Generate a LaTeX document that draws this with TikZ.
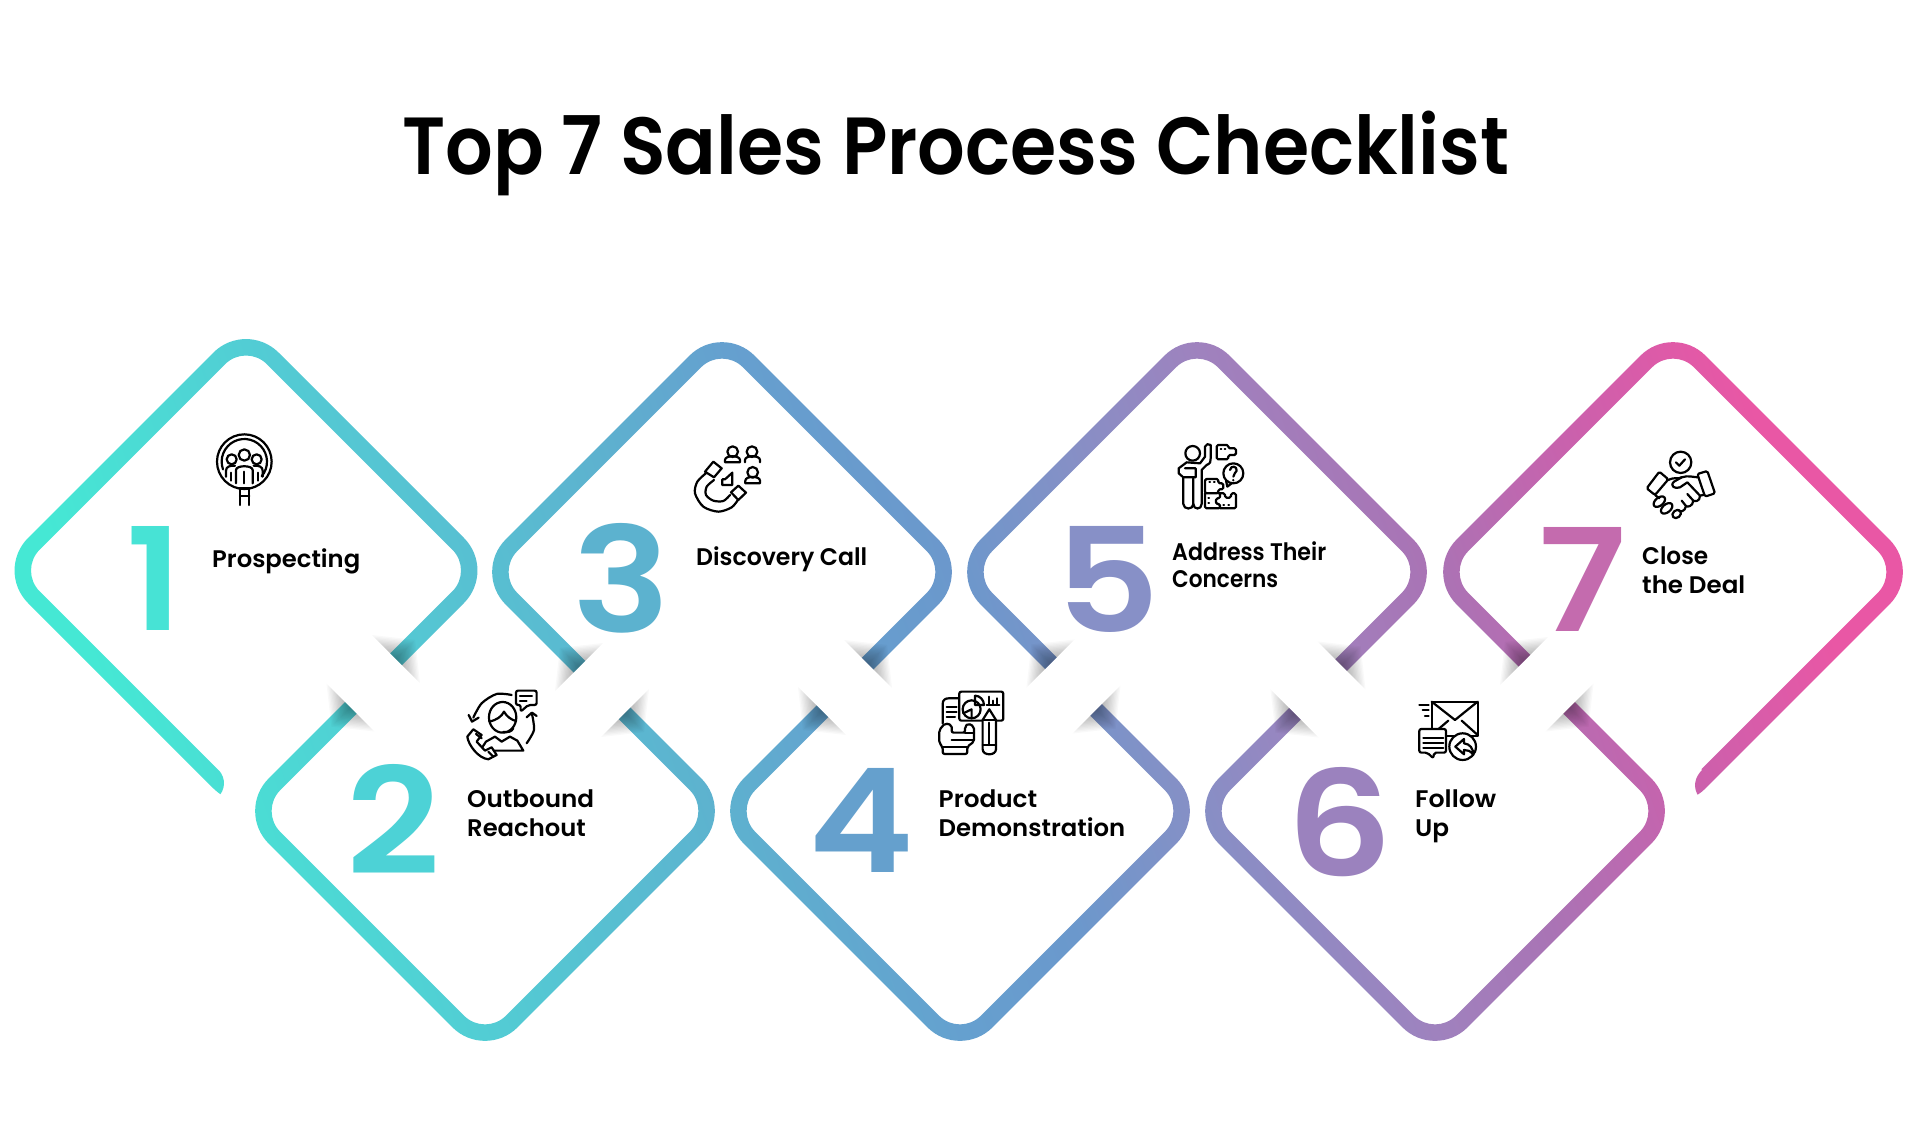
\documentclass[tikz,border=0pt]{standalone}
\usepackage{fontspec}
\usepackage{graphicx}
\newfontfamily\titlef{Poppins SemiBold}
\newfontfamily\labf{Poppins SemiBold}
\newfontfamily\numf{Poppins SemiBold}
\definecolor{gA}{HTML}{45E8D4}\definecolor{gB}{HTML}{52CDD4}\definecolor{gC}{HTML}{5DB2CF}
\definecolor{gD}{HTML}{65A0CF}\definecolor{gE}{HTML}{6B98CC}\definecolor{gF}{HTML}{8590C6}
\definecolor{gG}{HTML}{9F82BE}\definecolor{gH}{HTML}{A974B5}\definecolor{gI}{HTML}{CC60AC}
\definecolor{gJ}{HTML}{E957A5}
\definecolor{dig1}{HTML}{47E3D5}\definecolor{dig2}{HTML}{4DD2D6}\definecolor{dig3}{HTML}{5CB2CF}
\definecolor{dig4}{HTML}{65A0CD}\definecolor{dig5}{HTML}{8790C7}\definecolor{dig6}{HTML}{9B82BE}
\definecolor{dig7}{HTML}{C46BAE}
\pgfdeclarehorizontalshading{salesgrad}{2600pt}{color(0pt)=(gA);color(448pt)=(gA);color(695pt)=(gB);color(990pt)=(gC);color(1147pt)=(gD);color(1288pt)=(gE);color(1435pt)=(gF);color(1595pt)=(gG);color(1736pt)=(gH);color(1929pt)=(gI);color(2100pt)=(gJ);color(2600pt)=(gJ)}
\tikzset{
 icn/.style={draw=black,line width=2.2pt,line cap=round,line join=round},
 lab/.style={inner sep=0pt,anchor=base west,text=black},
 bignum/.style={inner sep=0pt}
}
\def\rH{248.9}\def\rI{225.6}
\newcommand\ringpiece[4]{%
 \begin{scope}[even odd rule]
  \clip #3;
  \clip
   ({#1+\rH/2},{#2-\rH/2}) [rounded corners=46pt] -- ({#1+\rH},#2) -- (#1,{#2+\rH}) -- ({#1-\rH},#2) -- (#1,{#2-\rH}) -- cycle
   [sharp corners]
   ({#1+\rI/2},{#2-\rI/2}) [rounded corners=29.5pt] -- ({#1+\rI},#2) -- (#1,{#2+\rI}) -- ({#1-\rI},#2) -- (#1,{#2-\rI}) -- cycle;
  \node[inner sep=0pt,rotate=19] (#4) at (960,561) {\pgfuseshading{salesgrad}};
 \end{scope}}
\newcommand\cutshadow[6]{%
 \foreach \i in {1,...,16}{
  \fill[black,opacity=.024] ({#1-#3*34*\i/16},{#2-#4*34*\i/16}) -- ({#1+#3*34*\i/16},{#2+#4*34*\i/16}) -- ({#1+#5*27*\i/16},{#2+#6*27*\i/16}) -- cycle;
 }}
\newcommand\arcd[5]{\draw[icn] plot[domain=#4:#5,samples=24,variable=\t] ({#1+#3*cos(\t)},{#2-#3*sin(\t)});}
\newcommand\labline[2]{\hbox{\resizebox{#1pt}{\height}{\labf #2}}}
\newcommand\labstack[1]{\vtop{\baselineskip=29.5pt\lineskiplimit=-100pt #1}}
\begin{document}
\begin{tikzpicture}[x=1pt,y=-1pt]
\useasboundingbox (0,0) rectangle (1921,1121);
\fill[white] (0,0) rectangle (1921,1121);

% rings
\begingroup
\def\rH{250.5}\def\rI{227.2}
\ringpiece{246}{570.5}{(440,703) -- (350,613) -- (217,768) .. controls (224,775) and (227,785) .. (220,795) -- (100,880) -- (-40,880) -- (-40,250) -- (520,250) -- (520,703) -- cycle}{r1}
\endgroup
\ringpiece{485}{811}{(300,657) -- (420,777) -- (550,788) -- (680,658) -- (800,658) -- (800,1100) -- (200,1100) -- (200,657) -- cycle}{r2}
\ringpiece{722}{572}{(540,706) -- (650,596) -- (800,596) -- (910,706) -- (1000,706) -- (1000,250) -- (450,250) -- (450,706) -- cycle}{r3}
\ringpiece{960}{811}{(780,669) -- (895,784) -- (1022,784) -- (1150,656) -- (1260,656) -- (1260,1100) -- (680,1100) -- (680,669) -- cycle}{r4}
\ringpiece{1197}{572}{(1000,714) -- (1120,594) -- (1270,594) -- (1390,714) -- (1480,714) -- (1480,250) -- (920,250) -- (920,714) -- cycle}{r5}
\ringpiece{1435}{811}{(1250,669) -- (1365,784) -- (1493,784) -- (1621,656) -- (1740,656) -- (1740,1100) -- (1160,1100) -- (1160,669) -- cycle}{r6}
\ringpiece{1673}{572}{(1480,705) -- (1600,585) -- (1702,770) .. controls (1695,777) and (1692,787) .. (1699,797) -- (1820,880) -- (1960,880) -- (1960,250) -- (1400,250) -- (1400,705) -- cycle}{r7}

% shadows at the cuts
\cutshadow{396}{659}{.7071}{.7071}{.7071}{-.7071}
\cutshadow{868}{664}{.7071}{.7071}{.7071}{-.7071}
\cutshadow{1341.5}{665.5}{.7071}{.7071}{.7071}{-.7071}
\cutshadow{350.5}{707.5}{.7071}{.7071}{-.7071}{.7071}
\cutshadow{822}{711}{.7071}{.7071}{-.7071}{.7071}
\cutshadow{1294.5}{713.5}{.7071}{.7071}{-.7071}{.7071}
\cutshadow{579}{667}{.7071}{-.7071}{-.7071}{-.7071}
\cutshadow{1050.5}{663.5}{.7071}{-.7071}{-.7071}{-.7071}
\cutshadow{1524}{661}{.7071}{-.7071}{-.7071}{-.7071}
\cutshadow{625}{713}{.7071}{-.7071}{.7071}{.7071}
\cutshadow{1096.5}{709.5}{.7071}{-.7071}{.7071}{.7071}
\cutshadow{1569.5}{707.5}{.7071}{-.7071}{.7071}{.7071}

% title
\node[lab] (title) at (402,174) {\resizebox{1107pt}{\height}{\titlef\fontsize{81pt}{90pt}\selectfont Top 7 Sales Process Checklist}};

% digits
\node[bignum,text=dig1] (n1) at (155,578) {\resizebox{56pt}{104pt}{\numf 1}};
\node[bignum,text=dig2] (n2) at (394,819.3) {\resizebox{94pt}{110pt}{\numf 2}};
\node[bignum,text=dig3] (n3) at (622,578) {\resizebox{98pt}{109pt}{\numf 3}};
\node[bignum,text=dig4] (n4) at (861,820) {\resizebox{105.5pt}{104pt}{\numf 4}};
\node[bignum,text=dig5] (n5) at (1108,579.5) {\resizebox{104.5pt}{106pt}{\numf 5}};
\node[bignum,text=dig6] (n6) at (1340,822) {\resizebox{106.5pt}{109pt}{\numf 6}};
\node[bignum,text=dig7] (n7) at (1583,579) {\resizebox{88pt}{104pt}{\numf 7}};

% labels
\fontsize{24pt}{29pt}\selectfont
\node[lab] (l1) at (212,567) {\labline{148}{Prospecting}};
\node[lab] (l2) at (467,807) {\labstack{\labline{127}{Outbound}\labline{118.5}{Reachout}}};
\node[lab] (l3) at (696,565) {\labline{171}{Discovery Call}};
\node[lab] (l4) at (938.5,807) {\labstack{\labline{98.5}{Product}\labline{186.5}{Demonstration}}};
\node[lab] (l5) at (1172,560) {\labstack{\baselineskip=27pt\labline{154}{Address Their}\labline{106}{Concerns}}};
\node[lab] (l6) at (1415,807) {\labstack{\labline{81}{Follow}\labline{34}{Up}}};
\node[lab] (l7) at (1642,564) {\labstack{\labline{66}{Close}\labline{103}{the Deal}}};

% icon 1: magnifier with people
\begin{scope}[shift={(180,420)},x=.3333pt,y=-.3333pt]
 \draw[icn] (193,125) circle[radius=82];
 \arcd{193}{125}{68}{-40}{200}
 \draw[icn] (193,105) circle[radius=17];
 \draw[icn] (155,118) circle[radius=15];
 \draw[icn] (230,118) circle[radius=15];
 \draw[icn] (168,190) -- (168,150) .. controls (168,135) and (218,135) .. (218,150) -- (218,190);
 \draw[icn] (138,170) -- (138,152) .. controls (138,140) and (150,136) .. (165,137);
 \draw[icn] (248,170) -- (248,152) .. controls (248,140) and (236,136) .. (221,137);
 \draw[icn] (152,158) -- (152,182) (235,158) -- (235,182) (193,155) -- (193,190);
 \draw[icn] (180,207) -- (180,255) (208,207) -- (208,255) (172,205) -- (216,205) (180,228) -- (208,228);
\end{scope}

% icon 2: outbound agent
\begin{scope}[shift={(180,420)},x=.3333pt,y=-.3333pt]
 \draw[icn] (968,892) ellipse[x radius=41,y radius=46];
 \draw[icn] (928,905) .. controls (950,900) and (965,890) .. (972,875) .. controls (980,890) and (995,900) .. (1008,903);
 \draw[icn] (1000,925) .. controls (995,935) and (985,938) .. (970,936);
 \draw[icn] (925,992) -- (1030,992) -- (1012,962) -- (990,950) -- (965,965) -- (945,950) -- (918,965) -- (905,985);
 \draw[icn] plot[smooth] coordinates {(995,825) (950,822) (905,850) (880,893)};
 \draw[icn] (866,885) -- (876,905) -- (896,893);
 \draw[icn] plot[smooth] coordinates {(1040,970) (1062,930) (1056,882)};
 \draw[icn] (1040,892) -- (1056,878) -- (1070,888);
 \draw[icn,rounded corners=2pt] (1008,812) -- (1070,812) -- (1070,855) -- (1045,855) -- (1022,875) -- (1022,855) -- (1008,855) -- cycle;
 \draw[icn] (1020,828) -- (1056,828) (1020,842) -- (1040,842);
 \draw[icn,fill=white] (880,928) -- (862,950) .. controls (865,975) and (895,1015) .. (925,1018) -- (950,1005) -- (935,982) -- (915,992) -- (890,965) -- (905,945) -- cycle;
 \draw[icn] (888,942) -- (905,955) (925,995) -- (940,1010);
\end{scope}

% icon 3: magnet and people
\begin{scope}[shift={(670,430)},x=.3333pt,y=-.3333pt]
 \draw[icn] (188,65) circle[radius=16];
 \draw[icn] (165,97) -- (165,90) .. controls (165,75) and (210,75) .. (210,90) -- (210,97) -- cycle;
 \draw[icn] (246,65) circle[radius=16];
 \draw[icn] (225,97) -- (225,90) .. controls (225,75) and (270,75) .. (270,90) -- (270,97);
 \draw[icn] (248,127) circle[radius=16];
 \draw[icn] (226,160) -- (226,152) .. controls (226,137) and (270,137) .. (270,152) -- (270,160) -- cycle;
 \draw[icn] plot[smooth] coordinates {(110,128) (82,155) (75,190) (100,230) (145,245) (185,232) (205,208)};
 \draw[icn] plot[smooth] coordinates {(132,150) (110,170) (108,195) (130,212) (160,213) (180,195)};
 \draw[icn] (105,125) -- (130,95) -- (155,115) -- (132,142) -- cycle;
 \draw[icn] (183,187) -- (205,167) -- (228,188) -- (205,210) -- cycle;
 \draw[icn] (187,128) -- (165,148) -- (157,148) -- (157,165) -- (187,165) -- cycle;
\end{scope}

% icon 4: product demonstration
\begin{scope}[shift={(670,430)},x=.3333pt,y=-.3333pt]
 \draw[icn,rounded corners=2pt] (868,785) rectangle (1000,872);
 \draw[icn] (905,838) circle[radius=27];
 \draw[icn] (905,838) -- (905,865) (905,838) -- (880,850);
 \draw[icn] (915,797) -- (915,825) -- (942,825) .. controls (942,810) and (930,797) .. (915,797);
 \draw[icn] (950,825) -- (988,825) (957,800) -- (957,825) (968,812) -- (968,825) (980,805) -- (980,825);
 \draw[icn,fill=white] (958,838) -- (938,870) -- (938,958) .. controls (938,978) and (978,978) .. (978,958) -- (978,870) -- cycle;
 \draw[icn] (938,870) -- (978,870) (958,878) -- (958,945) (938,945) -- (978,945);
 \draw[icn] (818,880) -- (818,822) .. controls (818,810) and (826,805) .. (836,805) -- (866,805);
 \draw[icn] (830,830) -- (860,830) (830,845) -- (860,845) (830,860) -- (855,860);
 \draw[icn,rounded corners=2pt] (845,908) -- (845,885) -- (825,880) -- (808,900) -- (808,940) -- (818,950) -- (818,972) -- (892,972) -- (892,950) -- (912,935) -- (912,890) -- (895,880) -- (885,890) -- (885,908) -- cycle;
 \draw[icn] (818,950) -- (892,950) (845,930) -- (885,930) (885,908) -- (912,908) (885,930) -- (912,930);
\end{scope}

% icon 5: address concerns
\begin{scope}[shift={(1150,430)},x=.3333pt,y=-.3333pt]
 \draw[icn] (128,70) circle[radius=22];
 \draw[icn] (100,142) -- (100,222) .. controls (100,240) and (130,240) .. (130,222) -- (130,145);
 \draw[icn] (130,222) .. controls (130,240) and (155,240) .. (155,222) -- (155,120) -- (170,105) .. controls (182,100) and (182,95) .. (182,85) -- (182,45) .. controls (175,40) and (168,42) .. (165,50) -- (165,80) -- (150,100) -- (110,97) -- (86,115) -- (86,130) -- (100,142) -- (137,142) -- (137,115) -- (105,115);
 \draw[icn,rounded corners=1.5pt] (200,45) -- (235,45) -- (235,55) -- (258,55) -- (258,75) -- (235,75) -- (235,88) -- (200,88) -- cycle;
 \draw[icn] (250,130) circle[radius=30];
 \draw[icn] (228,152) -- (232,170) -- (245,160);
 \draw[icn] (240,120) .. controls (242,105) and (262,108) .. (260,122) .. controls (258,130) and (250,130) .. (250,140) (250,150) -- (250,151);
 \draw[icn,rounded corners=1.5pt] (165,147) -- (205,147) -- (205,160) -- (220,160) -- (220,178) -- (205,178) -- (205,190) -- (165,190) -- cycle;
 \draw[icn,rounded corners=1.5pt] (165,190) -- (165,235) -- (210,235) -- (210,222) -- (198,222) -- (198,205) -- (210,205) -- (210,190);
 \draw[icn,rounded corners=1.5pt] (210,235) -- (258,235) -- (258,190) -- (243,190) -- (243,203) -- (225,203) -- (225,190) -- (205,190);
 \draw[icn] (178,157) -- (180,157) (192,157) -- (194,157) (175,205) -- (177,205) (175,220) -- (177,220) (220,225) -- (222,225) (235,225) -- (237,225) (212,57) -- (214,57) (224,57) -- (226,57);
\end{scope}

% icon 6: follow up
\begin{scope}[shift={(1150,430)},x=.3333pt,y=-.3333pt]
 \draw[icn] (845,815) rectangle (983,918);
 \draw[icn] (845,815) -- (915,870) -- (983,815) (845,915) -- (895,872) (983,915) -- (935,872);
 \draw[icn] (808,825) -- (836,825) (818,841) -- (836,841) (825,857) -- (836,857);
 \draw[icn,fill=white,rounded corners=2pt] (808,897) -- (888,897) -- (888,968) -- (852,968) -- (850,985) -- (832,968) -- (808,968) -- cycle;
 \draw[icn] (820,925) -- (880,925) (820,940) -- (880,940) (820,955) -- (880,955);
 \draw[icn,fill=white] (938,950) circle[radius=40];
 \draw[icn] (916,950) -- (942,927) -- (942,940) .. controls (960,942) and (970,955) .. (970,975) .. controls (962,962) and (952,960) .. (942,960) -- (942,973) -- cycle;
\end{scope}

% icon 7: handshake
\begin{scope}[shift={(1600,430)},x=.3333pt,y=-.3333pt]
 \draw[icn] (242,97) circle[radius=32];
 \draw[icn] (228,97) -- (238,107) -- (255,88);
 \draw[icn,rounded corners=1.5pt] (140,175) -- (178,125) -- (205,148) -- (165,195) -- cycle;
 \draw[icn,rounded corners=1.5pt] (292,132) -- (322,123) -- (345,190) -- (315,200) -- cycle;
 \draw[icn] (205,150) .. controls (225,140) and (235,148) .. (245,142) .. controls (265,135) and (280,142) .. (295,142);
 \draw[icn] (245,142) -- (222,155) .. controls (208,168) and (225,178) .. (240,172) -- (262,157) -- (300,197) -- (310,195);
 \draw[icn] (300,197) .. controls (300,215) and (285,215) .. (280,212) (280,212) -- (262,192) (280,212) .. controls (278,230) and (262,232) .. (258,228) -- (245,212) (258,228) .. controls (255,245) and (240,248) .. (235,240);
 \draw[icn] (165,195) -- (178,205);
 \draw[icn,rotate around={40:(178,215)}] (178,215) ellipse[x radius=20,y radius=12];
 \draw[icn,rotate around={40:(200,235)}] (200,235) ellipse[x radius=20,y radius=12];
 \draw[icn,rotate around={40:(230,252)}] (230,252) ellipse[x radius=14,y radius=11];
\end{scope}
\end{tikzpicture}
\end{document}
